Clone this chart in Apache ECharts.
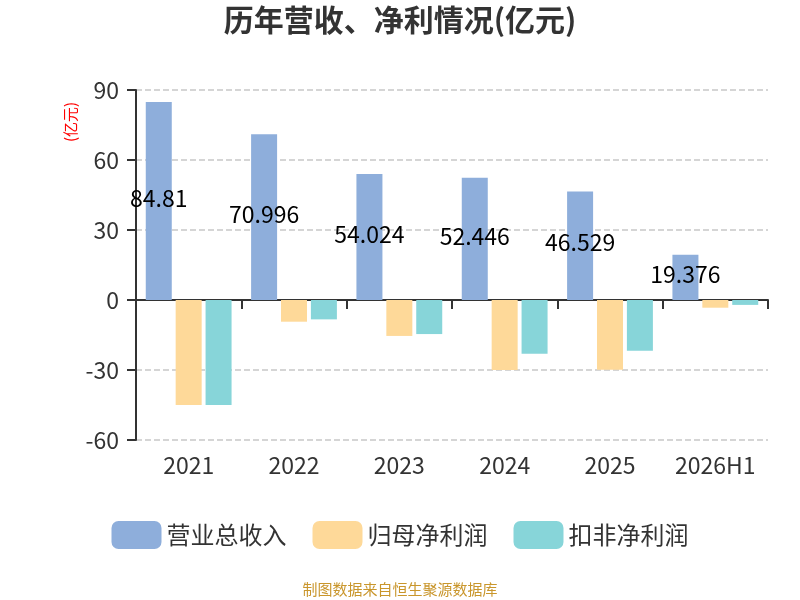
<!DOCTYPE html>
<html>
<head>
<meta charset="utf-8">
<script src="https://cdn.jsdelivr.net/npm/echarts@6/dist/echarts.min.js"></script>
<style>
    html, body { margin: 0; padding: 0; background: #fff; }
    #main { width: 800px; height: 600px; }
</style>
</head>
<body>
<div id="main"></div>
<script>
const years = ['2021', '2022', '2023', '2024', '2025', '2026H1'];
const revenue = [84.81, 70.996, 54.024, 52.446, 46.529, 19.376];
const netProfit = [-45.0, -9.3, -15.4, -30.0, -29.9, -3.3];
const deductedProfit = [-45.0, -8.3, -14.6, -23.0, -21.7, -2.1];
const yTicks = [-60, -30, 0, 30, 60, 90];

const font = '"Noto Sans CJK SC", "Noto Sans", sans-serif';

let chart = echarts.init(document.getElementById('main'));
let option = {
    animation: false,
    textStyle: { fontFamily: font },
    title: {
        text: '历年营收、净利情况(亿元)',
        left: 'center',
        top: 0,
        textStyle: { fontSize: 30, fontWeight: 'bold', color: '#333', fontFamily: font }
    },
    graphic: [
        {
            type: 'text',
            left: 'center',
            top: 582,
            style: { text: '制图数据来自恒生聚源数据库', fill: '#c9962c', fontSize: 15, fontFamily: font }
        },
        {
            type: 'text',
            x: 63,
            y: 142,
            rotation: Math.PI / 2,
            style: { text: '(亿元)', fill: '#ff0000', fontSize: 15, fontFamily: font }
        }
    ],
    legend: {
        bottom: 46,
        left: 'center',
        itemWidth: 50,
        itemHeight: 28,
        itemGap: 26,
        icon: 'roundRect',
        textStyle: { fontSize: 24, color: '#333', fontFamily: font },
        data: ['营业总收入', '归母净利润', '扣非净利润']
    },
    grid: { left: 136, right: 32, top: 90, bottom: 160, outerBoundsMode: 'none' },
    xAxis: {
        type: 'category',
        data: years,
        axisLine: { onZero: true, lineStyle: { color: '#333', width: 2 } },
        axisTick: { show: true, length: 9, lineStyle: { color: '#333', width: 2 } },
        axisLabel: { fontSize: 23, color: '#333', margin: 14, fontFamily: font }
    },
    yAxis: {
        type: 'value',
        min: yTicks[0],
        max: yTicks[yTicks.length - 1],
        interval: 30,
        axisLine: { show: true, lineStyle: { color: '#333', width: 2 } },
        axisTick: { show: true, length: 9, lineStyle: { color: '#333', width: 2 } },
        axisLabel: { fontSize: 23, color: '#333', margin: 17, fontFamily: font },
        splitLine: { lineStyle: { type: 'dashed', color: '#c8c8c8', width: 1.5 } }
    },
    series: [
        {
            name: '营业总收入',
            type: 'bar',
            data: revenue,
            barWidth: 26,
            barGap: '15%',
            itemStyle: { color: '#8eaedb' },
            label: { show: true, position: 'inside', offset: [0, -3], color: '#000', fontSize: 23, fontFamily: font }
        },
        {
            name: '归母净利润',
            type: 'bar',
            data: netProfit,
            barWidth: 26,
            barGap: '15%',
            itemStyle: { color: '#fed999' }
        },
        {
            name: '扣非净利润',
            type: 'bar',
            data: deductedProfit,
            barWidth: 26,
            barGap: '15%',
            itemStyle: { color: '#87d5d9' }
        }
    ]
};
chart.setOption(option);
</script>
</body>
</html>
